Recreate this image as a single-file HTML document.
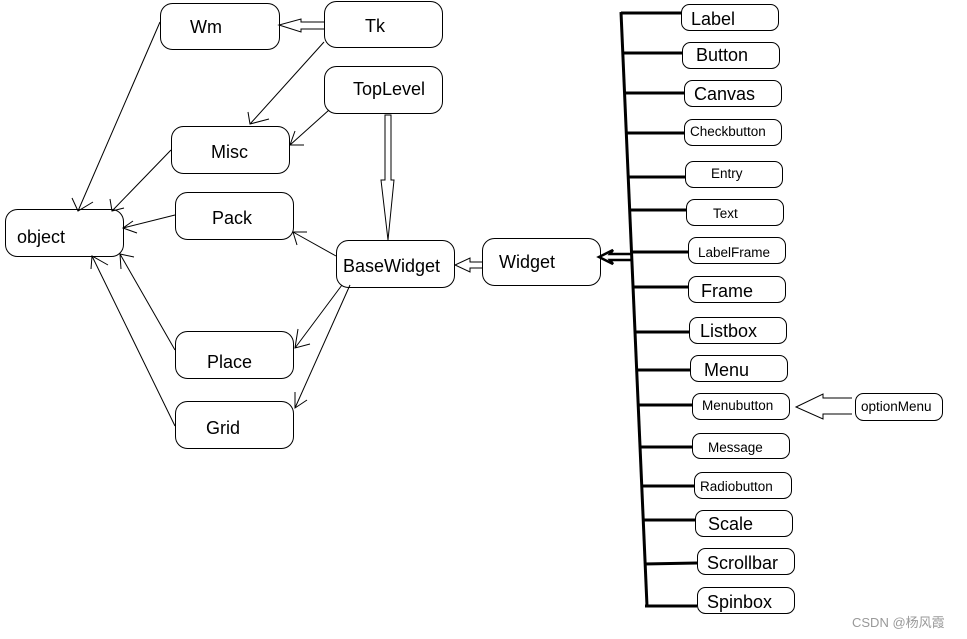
<!DOCTYPE html>
<html><head><meta charset="utf-8"><style>
html,body{margin:0;padding:0;background:#fff;}
svg{display:block;}
text{font-family:"Liberation Sans","Noto Sans CJK SC",sans-serif;fill:#000;}
</style></head><body>
<svg width="967" height="639" viewBox="0 0 967 639" xmlns="http://www.w3.org/2000/svg">
<g fill="none" stroke="#000" stroke-width="1">
<rect x="160.5" y="3.5" width="119" height="46" rx="12"/>
<rect x="324.5" y="1.5" width="118" height="46" rx="12"/>
<rect x="324.5" y="66.5" width="118" height="47" rx="12"/>
<rect x="171.5" y="126.5" width="118" height="47" rx="12"/>
<rect x="175.5" y="192.5" width="118" height="47" rx="12"/>
<rect x="5.5" y="209.5" width="118" height="47" rx="12"/>
<rect x="336.5" y="240.5" width="118" height="47" rx="12"/>
<rect x="482.5" y="238.5" width="118" height="47" rx="12"/>
<rect x="175.5" y="331.5" width="118" height="47" rx="12"/>
<rect x="175.5" y="401.5" width="118" height="47" rx="12"/>
<rect x="681.5" y="4.5" width="97" height="26" rx="8"/>
<rect x="682.5" y="42.5" width="97" height="26" rx="8"/>
<rect x="684.5" y="80.5" width="97" height="26" rx="8"/>
<rect x="684.5" y="119.5" width="97" height="26" rx="8"/>
<rect x="685.5" y="161.5" width="97" height="26" rx="8"/>
<rect x="686.5" y="199.5" width="97" height="26" rx="8"/>
<rect x="688.5" y="237.5" width="97" height="26" rx="8"/>
<rect x="688.5" y="276.5" width="97" height="26" rx="8"/>
<rect x="689.5" y="317.5" width="97" height="26" rx="8"/>
<rect x="690.5" y="355.5" width="97" height="26" rx="8"/>
<rect x="692.5" y="393.5" width="97" height="26" rx="8"/>
<rect x="692.5" y="433.5" width="97" height="25" rx="8"/>
<rect x="694.5" y="472.5" width="97" height="26" rx="8"/>
<rect x="695.5" y="510.5" width="97" height="26" rx="8"/>
<rect x="697.5" y="548.5" width="97" height="26" rx="8"/>
<rect x="697.5" y="587.5" width="97" height="26" rx="8"/>
<rect x="855.5" y="393.5" width="87" height="27" rx="8"/>

<path d="M160 22 L78 211 M72 198 L78 211 L93 202"/>
<path d="M324 42 L250 124 M248 112 L250 124 L269 119"/>
<path d="M329 110 L290 145 M295 131 L290 145 L304 145"/>
<path d="M171 150 L112 211 M110 199 L112 211 L124 208"/>
<path d="M175 215 L123 228 M133 221 L123 228 L137 233"/>
<path d="M336 256 L293 232 M307 232 L293 232 L297 245"/>
<path d="M342 285 L295 348 M298 329 L295 348 L310 344"/>
<path d="M350 285 L295 408 M295 392 L295 408 L307 400"/>
<path d="M175 350 L120 254 M121 269 L120 254 L134 257"/>
<path d="M175 426 L92 256 M91 269 L92 256 L108 265"/>

<path d="M324 22 L301 22 L301 19 L279 25 L301 32 L301 29 L324 29"/>
<path d="M385 115 L391 115 L391 180 L394 180 L388 240 L381 180 L385 180 Z"/>
<path d="M482 262 L470 262 L470 258 L455 265 L470 272 L470 268 L482 268"/>
<path d="M852 398 L823 398 L823 394 L796 407 L823 419 L823 414 L852 414"/>
</g>
<g stroke="#000" stroke-width="3" fill="none">
<path d="M621 12 L647 606"/>
<path d="M621 13 L681 13"/>
<path d="M623 53 L682 53"/>
<path d="M624 93 L684 93"/>
<path d="M626 133 L684 133"/>
<path d="M628 177 L685 177"/>
<path d="M630 210 L686 210"/>
<path d="M632 252 L688 252"/>
<path d="M633 287 L688 287"/>
<path d="M635 332 L689 332"/>
<path d="M637 370 L690 370"/>
<path d="M638 405 L692 405"/>
<path d="M639 447 L692 447"/>
<path d="M641 486 L694 486"/>
<path d="M643 520 L695 520"/>
<path d="M644 564 L697 563"/>
<path d="M645 606 L697 606"/>
<path d="M632 254 L610 254 L613 250 L599 257 L613 264 L610 260 L632 260" stroke-width="2.5"/>
</g>
<g font-size="18">
<text x="190" y="33">Wm</text>
<text x="365" y="32">Tk</text>
<text x="353" y="95">TopLevel</text>
<text x="211" y="158">Misc</text>
<text x="212" y="224">Pack</text>
<text x="17" y="243">object</text>
<text x="343" y="272">BaseWidget</text>
<text x="499" y="268">Widget</text>
<text x="207" y="368">Place</text>
<text x="206" y="434">Grid</text>
<text x="691" y="25">Label</text>
<text x="696" y="61">Button</text>
<text x="694" y="100">Canvas</text>
<text x="701" y="297">Frame</text>
<text x="700" y="337">Listbox</text>
<text x="704" y="376">Menu</text>
<text x="708" y="530">Scale</text>
<text x="707" y="569">Scrollbar</text>
<text x="707" y="608">Spinbox</text>
</g>
<g font-size="13.5">
<text x="690" y="136">Checkbutton</text>
<text x="711" y="178">Entry</text>
<text x="713" y="218">Text</text>
<text x="698" y="257">LabelFrame</text>
<text x="702" y="410">Menubutton</text>
<text x="708" y="452">Message</text>
<text x="700" y="491">Radiobutton</text>
<text x="861" y="411">optionMenu</text>
</g>
<text x="852" y="627" font-size="13" style="fill:#999">CSDN @杨风霞</text>
</svg>
</body></html>
